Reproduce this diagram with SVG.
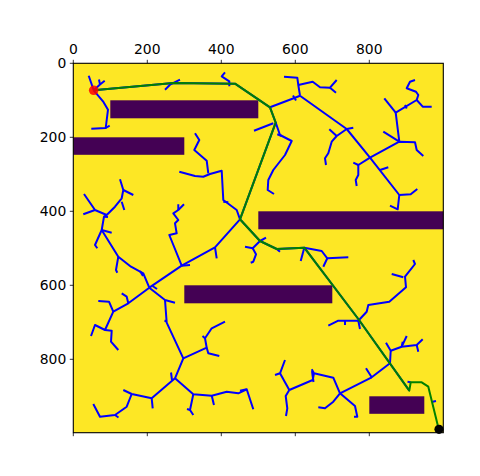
<svg xmlns="http://www.w3.org/2000/svg" width="480" height="476" viewBox="0 0 480 476">
<style>
.tree polyline{fill:none;stroke:#0000ff;stroke-width:2;stroke-linejoin:round;stroke-linecap:butt}
.path{fill:none;stroke:#008000;stroke-width:2;stroke-linejoin:round}
.obs{fill:#440154}
.tick{stroke:#000;stroke-width:0.8}
.lbl{font-family:"DejaVu Sans",sans-serif;font-size:13.9px;fill:#000}
</style>
<defs><clipPath id="ax"><rect x="73.3" y="63.3" width="370" height="369.4"/></clipPath></defs>
<rect width="480" height="476" fill="#fff"/>
<g id="map">
<rect x="73.3" y="63.3" width="370" height="369.4" fill="#fde725"/>
<rect class="obs" x="110.3" y="100.3" width="148" height="18"/>
<rect class="obs" x="73.3" y="137.3" width="111" height="17.5"/>
<rect class="obs" x="258.3" y="211.3" width="185" height="18"/>
<rect class="obs" x="184.3" y="285.3" width="148" height="18"/>
<rect class="obs" x="369.3" y="396.3" width="55" height="17.5"/>
</g>
<g id="connectors" class="tree" clip-path="url(#ax)">
<polyline points="88.7,75.7 93.7,90.3"/>
<polyline points="93.7,90.3 100,84.5 104.7,80.7"/>
<polyline points="99,79.5 100,84.5"/>
<polyline points="93.7,90.3 103,101.3 108,109.7 105.7,128 91.3,128.7"/>
<polyline points="105.7,128 109.7,125.7"/>
<polyline points="165,89.7 170,84.7 180,79.7"/>
<polyline points="225,72.3 221.7,76.3 229.3,81.3 229.3,86.3"/>
<polyline points="93.7,90.3 173.3,83 235,83.7 270,107.3 275.7,122.7 240,219.3 260,241 276.7,249 304.3,247.7 358.3,319 409.3,390.7"/>
<polyline points="195,133.3 199.3,140 194.3,150 206.7,160.7 208.3,173.3"/>
<polyline points="179.3,171.7 195,176 203.3,176.7 210,174 221.7,170.7 223.3,200 236.7,210 240,219.3"/>
<polyline points="223.3,201.7 228.3,202.3"/>
<polyline points="270,107.3 295,97.7 300,95.7"/>
<polyline points="293,95.5 296,100.5"/>
<polyline points="300,95.7 298.3,85 297.3,77.7 284,76.7"/>
<polyline points="298.3,85 312.7,81.7 320,87.3 330,87.7 336.7,80"/>
<polyline points="330,87.7 336,92.7"/>
<polyline points="300,95.7 346.7,129 370,157.7 399.3,195"/>
<polyline points="346.7,129 336.7,136 331.7,141.7 328.3,153.3 325,158.3 326,165"/>
<polyline points="336.7,136 329.3,129.3"/>
<polyline points="346.7,129 353.3,127.7"/>
<polyline points="370,157.7 399.3,141.7 415,142.3 416.7,150 423.3,156"/>
<polyline points="399.3,141.7 383.3,131.7"/>
<polyline points="399.3,141.7 395.7,112.7 416.7,100 418.3,95 416,91.7 406.7,88.3 410,81.7 415,80"/>
<polyline points="395.7,112.7 384.3,98.3"/>
<polyline points="416.7,100 422.7,106.7 431.7,106.7"/>
<polyline points="405,105 406.7,108.5"/>
<polyline points="370,157.7 358.3,165 353.3,162.7"/>
<polyline points="358.3,165 358.3,175 355.7,180 356.7,186"/>
<polyline points="380,170 388.3,167.3"/>
<polyline points="275.7,122.7 280,135 291.7,141 285,155 273.3,170 268.3,180 267.7,190 274,194"/>
<polyline points="277.3,134.3 281.7,136"/>
<polyline points="254,130.7 273.3,123.3"/>
<polyline points="399.3,195 410.7,194.3 417.3,189"/>
<polyline points="399.3,195 397.7,209.3 390,205.7"/>
<polyline points="260,241 266,237.7"/>
<polyline points="260,241 252.7,248.3 245,246.7"/>
<polyline points="252.7,248.3 256,254.3 253.3,261.7 250.7,262.7"/>
<polyline points="276.7,249 280,251.7"/>
<polyline points="304.3,247.7 321.7,251 327.3,258.3 323.3,266.7"/>
<polyline points="327.3,258.3 348.3,257.3"/>
<polyline points="304.3,247.7 300.7,261"/>
<polyline points="413.3,260 415,264 405,276.7 406,287.3 389.3,301.7 368.3,305 366.7,311.7 358.3,320.7 338.3,320.7 328.3,325.7"/>
<polyline points="403.3,277.3 391.7,274"/>
<polyline points="345,320.7 345,325"/>
<polyline points="358.3,320.7 360,329"/>
<polyline points="390,363.3 390.7,350.7 386,342.7"/>
<polyline points="390.7,350.7 401.7,346.7 416.7,345 422.7,339.3"/>
<polyline points="401.7,346.7 406.7,336"/>
<polyline points="401.7,346.7 402.7,341.7"/>
<polyline points="416.7,345 418.3,351.7"/>
<polyline points="390,363.3 371.7,377.3 366,368.3"/>
<polyline points="371.7,377.3 340,393.3"/>
<polyline points="340,393.3 333.3,377.7 314,373.3 311.7,369.3"/>
<polyline points="314,373.3 312.7,380 289.3,390"/>
<polyline points="312,371 313.5,382"/>
<polyline points="340,393.3 355,406 357.3,416.7 354,416.7"/>
<polyline points="340,393.3 333.3,401.7 325,408.3 318.3,407.3"/>
<polyline points="275,375 280,373.3 285,360"/>
<polyline points="280,373.3 289.3,390"/>
<polyline points="289.3,390 285.7,396 287.3,408.3 286,416"/>
<polyline points="432.7,401.7 436,401"/>
<polyline points="410.7,382.3 407.5,381.7"/>
<polyline points="120,179.3 123.3,190 121.7,198.3 115,206.7 106.7,215 104,216.7 101.7,230 95,245 97.3,248.3"/>
<polyline points="123.3,190 133.3,195"/>
<polyline points="121.7,201.7 124.3,210"/>
<polyline points="106.7,215 95,210 84,194"/>
<polyline points="95,210 83.3,214.3"/>
<polyline points="104,216.7 108,217"/>
<polyline points="101.7,230 111.7,232.7"/>
<polyline points="101.7,230 118.3,256.7 131,266.7 143.3,273.3 149.3,287.7"/>
<polyline points="118.3,256.7 116,270 117.3,272.7"/>
<polyline points="140,271 143,276"/>
<polyline points="149.3,287.7 181.7,265.7 215,247.3 240,219.3"/>
<polyline points="215,247.3 216.7,258.3"/>
<polyline points="152.5,286 157,289"/>
<polyline points="181.7,265.7 169.3,235 176.7,233.3 175,223.3 178.3,220 173.3,213.3 178.3,210 184,204.3"/>
<polyline points="178.3,210 178.3,204.3"/>
<polyline points="181.7,265.7 190,265"/>
<polyline points="149.3,287.7 128.3,303.3 113.3,311.7 105,330 95,325 91,336"/>
<polyline points="128.3,303.3 126.7,296.7 121.7,293.3"/>
<polyline points="113.3,311.7 109,301.7 98.3,301"/>
<polyline points="105,330 111.7,330.7 111,341.7 118.3,350"/>
<polyline points="149.3,287.7 165,300 175,302.7"/>
<polyline points="165,300 166.7,322.7 183.3,358.3 175,378.3"/>
<polyline points="166.7,321.5 164.5,320.5"/>
<polyline points="183.3,358.3 206.7,347.7 205,338.3 211.7,328.3 225,321.7"/>
<polyline points="205,338.3 202.5,336"/>
<polyline points="206.7,347.7 208.3,353.3 219.3,356"/>
<polyline points="175,378.3 151.7,398.3 131.7,394 123.3,390"/>
<polyline points="151.7,398.3 152.7,408.3"/>
<polyline points="131.7,394 126.7,406.7 115,415 100,416.7 93.3,404"/>
<polyline points="115,415 118.5,417.5"/>
<polyline points="171,372.5 172,380"/>
<polyline points="175,378.3 193.3,394.3 211.7,395.7 226.7,391.7 238.3,393.3 246.7,389.3 253.3,409.3"/>
<polyline points="193.3,394.3 190,410 193.3,415"/>
<polyline points="190,410 187,409"/>
<polyline points="211.7,395.7 214,405"/>
<polyline points="240,390.7 246.7,389.3"/>
</g>
<g id="solution" clip-path="url(#ax)">
<polyline class="path" points="93.7,90.3 173.3,83 235,83.7 270,107.3 275.7,122.7 240,219.3 260,241 276.7,249 304.3,247.7 358.3,319 409.3,390.7 410.7,382.3 421.7,382.3 428.3,386.7 438.8,429.5"/>
</g>
<g id="start"><circle cx="93.7" cy="90.3" r="4.8" fill="#ff0000" fill-opacity="0.85"/></g>
<g id="goal"><circle cx="439" cy="429.3" r="4.6" fill="#000"/></g>
<g id="axes">
<rect x="73.3" y="63.3" width="370" height="369.4" fill="none" stroke="#000" stroke-width="1.1"/>
<g class="tick">
<line x1="73.3" y1="63.3" x2="73.3" y2="59.8"/><line x1="147.3" y1="63.3" x2="147.3" y2="59.8"/><line x1="221.3" y1="63.3" x2="221.3" y2="59.8"/><line x1="295.3" y1="63.3" x2="295.3" y2="59.8"/><line x1="369.3" y1="63.3" x2="369.3" y2="59.8"/>
<line x1="73.3" y1="432.7" x2="73.3" y2="436.2"/><line x1="147.3" y1="432.7" x2="147.3" y2="436.2"/><line x1="221.3" y1="432.7" x2="221.3" y2="436.2"/><line x1="295.3" y1="432.7" x2="295.3" y2="436.2"/><line x1="369.3" y1="432.7" x2="369.3" y2="436.2"/>
<line x1="73.3" y1="63.3" x2="69.8" y2="63.3"/><line x1="73.3" y1="137.3" x2="69.8" y2="137.3"/><line x1="73.3" y1="211.3" x2="69.8" y2="211.3"/><line x1="73.3" y1="285.3" x2="69.8" y2="285.3"/><line x1="73.3" y1="359.3" x2="69.8" y2="359.3"/>
</g>
<g class="lbl" text-anchor="middle">
<text x="73.3" y="54">0</text><text x="147.3" y="54">200</text><text x="221.3" y="54">400</text><text x="295.3" y="54">600</text><text x="369.3" y="54">800</text>
</g>
<g class="lbl" text-anchor="end">
<text x="66.3" y="68.3">0</text><text x="66.3" y="142.3">200</text><text x="66.3" y="216.3">400</text><text x="66.3" y="290.3">600</text><text x="66.3" y="364.3">800</text>
</g>
</g>
</svg>
